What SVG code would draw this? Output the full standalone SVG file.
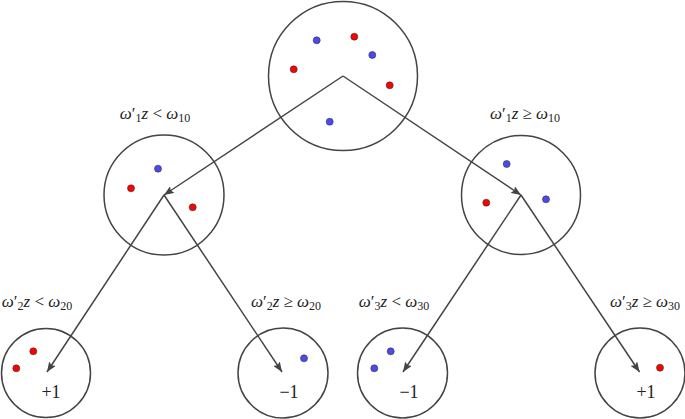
<svg xmlns="http://www.w3.org/2000/svg" width="685" height="419" viewBox="0 0 685 419">
<style>
.node{fill:none;stroke:#444;stroke-width:1.5}
.r{fill:#f00;stroke:#333;stroke-width:0.6}
.b{fill:#4a4af0;stroke:#333;stroke-width:0.6}
.edge{fill:none;stroke:#444;stroke-width:1.5;marker-end:url(#arr)}
</style>
<defs>
<marker id="arr" viewBox="0 0 10 8" refX="10" refY="4" markerWidth="10" markerHeight="8" markerUnits="userSpaceOnUse" orient="auto">
<path d="M0,0 L10,4 L0,8 L2,4 Z" fill="#444"/>
</marker>
</defs>
<g id="connectors">
<line class="edge" x1="343" y1="76" x2="164" y2="195"/>
<line class="edge" x1="343" y1="76" x2="521" y2="195"/>
<line class="edge" x1="164" y1="195" x2="47" y2="372"/>
<line class="edge" x1="164" y1="195" x2="282" y2="372"/>
<line class="edge" x1="521" y1="195" x2="403" y2="372"/>
<line class="edge" x1="521" y1="195" x2="639.5" y2="372"/>
</g>
<g id="root">
<circle class="node" cx="343" cy="76" r="74.5"/>
<circle class="b" cx="316.7" cy="40.3" r="3.5"/>
<circle class="r" cx="354.3" cy="36.7" r="3.5"/>
<circle class="b" cx="372.3" cy="55" r="3.5"/>
<circle class="r" cx="293.7" cy="69.3" r="3.5"/>
<circle class="r" cx="389.7" cy="85.3" r="3.5"/>
<circle class="b" cx="329.7" cy="121.7" r="3.5"/>
</g>
<g font-family="Liberation Serif, serif" fill="#222" text-anchor="middle">
<g id="left">
<circle class="node" cx="164" cy="195" r="60"/>
<circle class="b" cx="158" cy="168.7" r="3.5"/>
<circle class="r" cx="131" cy="188.3" r="3.5"/>
<circle class="r" cx="192.7" cy="207.3" r="3.5"/>
<text x="155" y="119" font-family="Liberation Serif, serif" font-size="17"><tspan font-style="italic">ω</tspan>′<tspan font-size="12" dy="3">1</tspan><tspan font-style="italic" dy="-3">z</tspan> &lt; <tspan font-style="italic">ω</tspan><tspan font-size="12" dy="3">10</tspan></text>
</g>
<g id="right">
<circle class="node" cx="521" cy="195" r="59.5"/>
<circle class="b" cx="506.7" cy="164" r="3.5"/>
<circle class="r" cx="486.3" cy="202.7" r="3.5"/>
<circle class="b" cx="546" cy="199.3" r="3.5"/>
<text x="525" y="119" font-family="Liberation Serif, serif" font-size="17"><tspan font-style="italic">ω</tspan>′<tspan font-size="12" dy="3">1</tspan><tspan font-style="italic" dy="-3">z</tspan> ≥ <tspan font-style="italic">ω</tspan><tspan font-size="12" dy="3">10</tspan></text>
</g>
<g id="leaf1">
<circle class="node" cx="46" cy="373" r="44.5"/>
<circle class="r" cx="33.3" cy="351.3" r="3.5"/>
<circle class="r" cx="16.3" cy="368.3" r="3.5"/>
<text x="51" y="398" font-family="Liberation Serif, serif" font-size="18">+1</text>
<text x="37" y="307" font-family="Liberation Serif, serif" font-size="17"><tspan font-style="italic">ω</tspan>′<tspan font-size="12" dy="3">2</tspan><tspan font-style="italic" dy="-3">z</tspan> &lt; <tspan font-style="italic">ω</tspan><tspan font-size="12" dy="3">20</tspan></text>
</g>
<g id="leaf2">
<circle class="node" cx="283" cy="373" r="45"/>
<circle class="b" cx="304" cy="358.3" r="3.5"/>
<text x="289" y="398" font-family="Liberation Serif, serif" font-size="18">−1</text>
<text x="286" y="307" font-family="Liberation Serif, serif" font-size="17"><tspan font-style="italic">ω</tspan>′<tspan font-size="12" dy="3">2</tspan><tspan font-style="italic" dy="-3">z</tspan> ≥ <tspan font-style="italic">ω</tspan><tspan font-size="12" dy="3">20</tspan></text>
</g>
<g id="leaf3">
<circle class="node" cx="402.5" cy="373" r="45"/>
<circle class="b" cx="390.7" cy="351.3" r="3.5"/>
<circle class="b" cx="374.3" cy="368.3" r="3.5"/>
<text x="409" y="398" font-family="Liberation Serif, serif" font-size="18">−1</text>
<text x="394" y="307" font-family="Liberation Serif, serif" font-size="17"><tspan font-style="italic">ω</tspan>′<tspan font-size="12" dy="3">3</tspan><tspan font-style="italic" dy="-3">z</tspan> &lt; <tspan font-style="italic">ω</tspan><tspan font-size="12" dy="3">30</tspan></text>
</g>
<g id="leaf4">
<circle class="node" cx="640" cy="373" r="45"/>
<circle class="r" cx="660" cy="367.7" r="3.5"/>
<text x="646" y="398" font-family="Liberation Serif, serif" font-size="18">+1</text>
<text x="645" y="307" font-family="Liberation Serif, serif" font-size="17"><tspan font-style="italic">ω</tspan>′<tspan font-size="12" dy="3">3</tspan><tspan font-style="italic" dy="-3">z</tspan> ≥ <tspan font-style="italic">ω</tspan><tspan font-size="12" dy="3">30</tspan></text>
</g>
</g>
</svg>
